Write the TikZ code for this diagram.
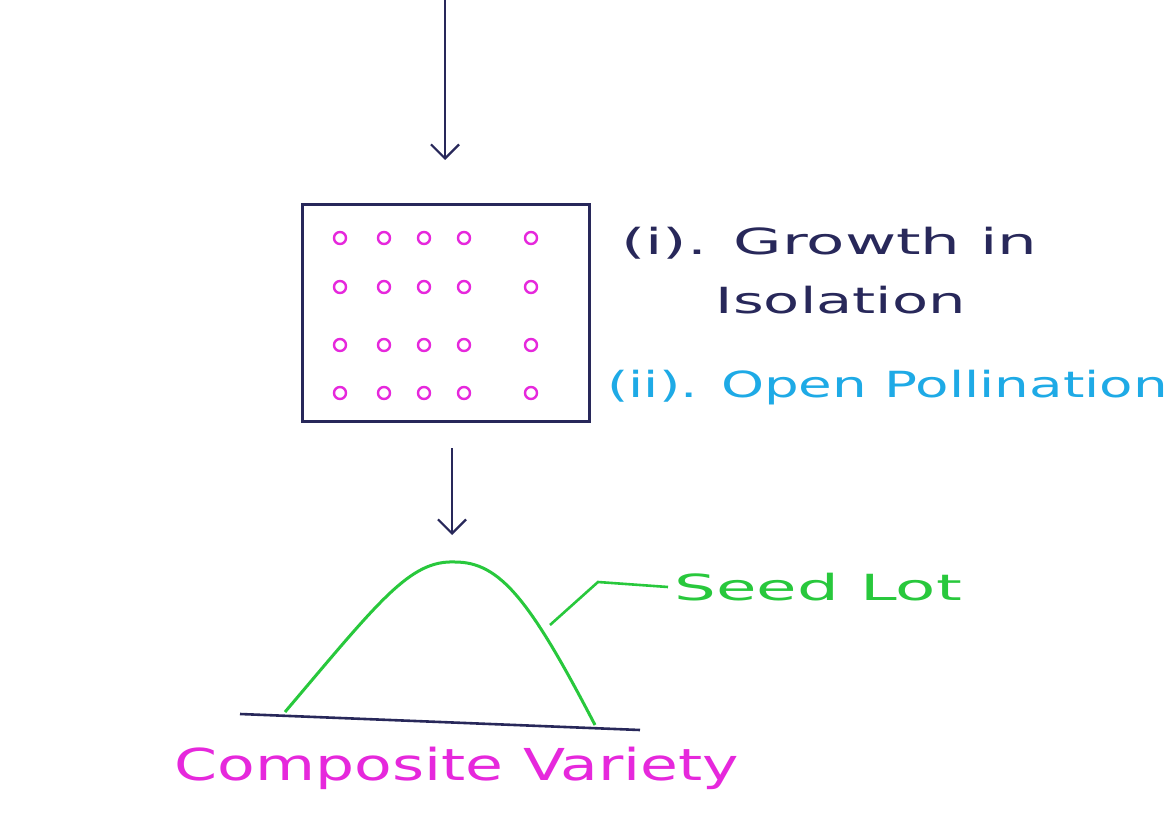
\documentclass[tikz,border=0pt]{standalone}
\usepackage{fontspec}
\setmainfont{DejaVu Sans}
\usetikzlibrary{arrows.meta}
\definecolor{navy}{RGB}{40,40,90}
\definecolor{mag}{RGB}{230,40,220}
\definecolor{cy}{RGB}{30,170,230}
\definecolor{gr}{RGB}{40,200,60}
\begin{document}
\begin{tikzpicture}[x=1pt,y=-1pt,
  arr/.style={navy,line width=2.2pt,-{Straight Barb[length=14pt,width=28pt]}},
  dot/.style={circle,draw=mag,line width=2.4pt,minimum size=12pt,inner sep=0pt},
  lbl/.style={anchor=west,font=\fontsize{36}{40}\selectfont}]
\useasboundingbox[fill=white] (0,0) rectangle (1168,818);
\coordinate (t0) at (445,0);
\coordinate (t1) at (445,160);
\node[draw=navy,line width=2.4pt,minimum width=287pt,minimum height=217pt] (box) at (446,313) {};
\draw[arr] (t0) -- (t1);
\foreach \y in {238,287,345,393}{
  \foreach \x [count=\i] in {340,384,424,464,531}{
    \node[dot] (d\i\y) at (\x,\y) {};}}
\node[lbl,navy,xscale=1.74] (g1) at (615,243) {(i). Growth in};
\node[lbl,navy,xscale=1.64] (g2) at (710,300) {Isolation};
\node[lbl,cy,xscale=1.52] (op) at (602,388) {(ii). Open Pollination};
\coordinate (a2) at (452,448);
\coordinate (a2e) at (452,535);
\draw[arr] (a2) -- (a2e);
\coordinate (c1) at (285,712);
\coordinate (pk) at (455,562);
\coordinate (c2) at (595,725);
\draw[gr,line width=3pt] (c1) .. controls (380,600) and (410,560) .. (pk)
  .. controls (500,562) and (530,600) .. (c2);
\coordinate (b1) at (240,714);
\coordinate (b2) at (640,730);
\draw[navy,line width=2.6pt] (b1) -- (b2);
\node[lbl,gr,xscale=1.83] (seed) at (668,587) {Seed Lot};
\coordinate (l1) at (550,625);
\coordinate (l2) at (598,582);
\draw[gr,line width=2.6pt] (l1) -- (l2) -- (seed.west);
\node[lbl,mag,xscale=1.4,font=\fontsize{44}{48}\selectfont] (cv) at (170,768) {Composite Variety};
\end{tikzpicture}
\end{document}
